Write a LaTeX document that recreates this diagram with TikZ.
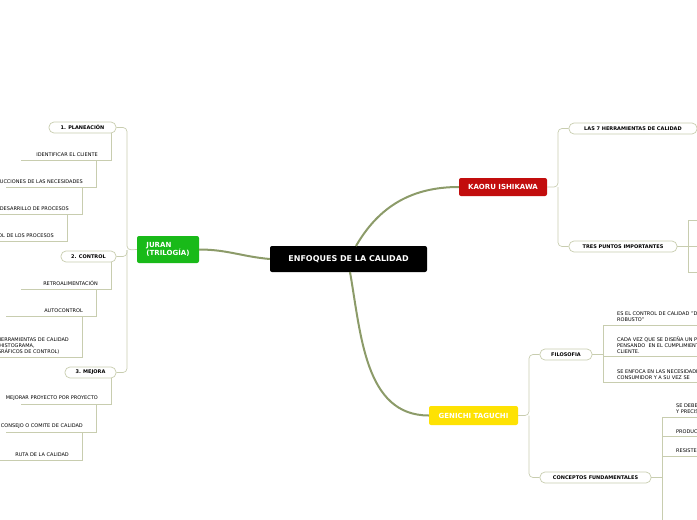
\documentclass[tikz,border=0pt]{standalone}
\usepackage{fontspec}
\setmainfont{DejaVu Sans}
\definecolor{connc}{RGB}{140,155,105}
\definecolor{lnc}{RGB}{200,205,175}
\begin{document}
\begin{tikzpicture}[x=1pt,y=-1pt,
  ln/.style={draw=lnc,line width=0.7pt},
  conn/.style={draw=connc,line width=2pt},
  main/.style={rounded corners=2pt,text=white,font=\bfseries\fontsize{8}{9}\selectfont,inner sep=0pt},
  pill/.style={draw=lnc,line width=0.7pt,fill=white,rounded corners=5pt,font=\bfseries\fontsize{5}{6}\selectfont,inner sep=0pt},
  lbl/.style={font=\fontsize{5}{6}\selectfont,inner sep=0pt,align=left}]
\useasboundingbox (0,0) rectangle (697,520);
\clip (0,0) rectangle (697,520);
% main
\node[main,fill=black,minimum width=157,minimum height=26] (c) at (348.5,259) {ENFOQUES DE LA CALIDAD};
\node[main,fill=green!70!black!90,minimum width=62,minimum height=27,align=left,font=\bfseries\fontsize{7}{8}\selectfont] (j) at (168,249.5) {JURAN\\(TRILOGÍA)};
\node[main,fill=red!75!black!95,minimum width=88,minimum height=18,font=\bfseries\fontsize{7}{8}\selectfont] (k) at (503,187) {KAORU ISHIKAWA};
\node[main,fill=yellow!85!orange,minimum width=89,minimum height=19,font=\bfseries\fontsize{7}{8}\selectfont] (g) at (473.5,415.5) {GENICHI TAGUCHI};
\draw[conn] (c.west) to[out=175,in=0] (j.east);
\draw[conn] (356,246) to[out=60,in=180] (k.west);
\draw[conn] (350,272) to[out=-80,in=180] (g.west);
% Juran
\node[pill,minimum width=67,minimum height=11] (p1) at (82.5,127.5) {1. PLANEACIÓN};
\node[pill,minimum width=55,minimum height=11] (p2) at (88.5,256.5) {2. CONTROL};
\node[pill,minimum width=51,minimum height=11] (p3) at (90.5,372.5) {3. MEJORA};
\draw[ln,rounded corners=4pt] (j.west) -- (127,250) -- (127,127.5) -- (p1.east);
\draw[ln,rounded corners=4pt] (127,250) -- (127,256.5) -- (p2.east);
\draw[ln,rounded corners=4pt] (127,250) -- (127,372.5) -- (p3.east);
\foreach \top/\yb/\xa/\t in {133/160/111/IDENTIFICAR EL CLIENTE,160/187/96/TRADUCCIONES DE LAS NECESIDADES,187/214/82/DESARRILLO DE PROCESOS,214/241/67/CONTROL DE LOS PROCESOS,262/289/111/RETROALIMENTACIÓN,289/316/96/AUTOCONTROL,378/404/111/MEJORAR PROYECTO POR PROYECTO,404/432/96/CONSEJO O COMITE DE CALIDAD,432/460/82/RUTA DE LA CALIDAD}{
  \draw[ln] (\xa,\top) -- (\xa,\yb) -- (\xa-90,\yb);
  \node[lbl,anchor=south east] at (\xa-13,\yb-3) {\t};}
\draw[ln] (82,316) -- (82,357) -- (-10,357);
\node[lbl,anchor=south east,align=left] at (69,354) {HERRAMIENTAS DE CALIDAD\\(HISTOGRAMA,\\GRÁFICOS DE CONTROL)};
% Ishikawa
\node[pill,minimum width=128,minimum height=11] (i1) at (633,128.5) {LAS 7 HERRAMIENTAS DE CALIDAD};
\node[pill,minimum width=108,minimum height=11] (i2) at (623,246.5) {TRES PUNTOS IMPORTANTES};
\draw[ln,rounded corners=4pt] (k.east) -- (558,187) -- (558,128.5) -- (i1.west);
\draw[ln,rounded corners=4pt] (558,187) -- (558,246.5) -- (i2.west);
\draw[ln] (i2.east) -- (688,246.5);
\draw[ln] (700,220) -- (688,220) -- (688,272) -- (700,272);
\draw[ln] (688,246.5) -- (700,246.5);
% Taguchi
\node[pill,minimum width=52,minimum height=11] (t1) at (566,354.5) {FILOSOFIA};
\node[pill,minimum width=111,minimum height=11] (t2) at (595.5,477.5) {CONCEPTOS FUNDAMENTALES};
\draw[ln,rounded corners=4pt] (g.east) -- (529,415.5) -- (529,354.5) -- (t1.west);
\draw[ln,rounded corners=4pt] (529,415.5) -- (529,477.5) -- (t2.west);
\draw[ln] (t1.east) -- (603,354.5);
\draw[ln] (700,325) -- (603,325) -- (603,382) -- (700,382);
\draw[ln] (603,356) -- (700,356);
\node[lbl,anchor=south west] at (617,322) {ES EL CONTROL DE CALIDAD "DISEÑO\\ROBUSTO"};
\node[lbl,anchor=south west] at (617,354) {CADA VEZ QUE SE DISEÑA UN PRODUCTO\\PENSANDO\ \ EN EL CUMPLIMIENTO DEL\\CLIENTE.};
\node[lbl,anchor=south west] at (617,380) {SE ENFOCA EN LAS NECESIDADES DEL\\CONSUMIDOR Y A SU VEZ SE};
\draw[ln] (t2.east) -- (662,477.5);
\draw[ln] (700,417) -- (662,417) -- (662,525);
\draw[ln] (662,436) -- (700,436);
\draw[ln] (662,456) -- (700,456);
\node[lbl,anchor=south west] at (676,414) {SE DEBE\\Y PRECISIÓN};
\node[lbl,anchor=south west] at (676,433.5) {PRODUCTO};
\node[lbl,anchor=south west] at (676,453) {RESISTENCIA};
\end{tikzpicture}
\end{document}
